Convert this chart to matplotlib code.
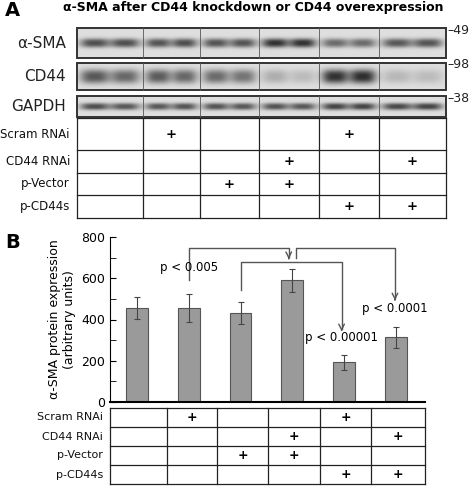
import numpy as np
import matplotlib
matplotlib.use("Agg")
import matplotlib.pyplot as plt

# ---- data ----
conditions = ["Scram RNAi", "CD44 RNAi", "p-Vector", "p-CD44s"]
marks = [  # per group: Scram, CD44 RNAi, p-Vector, p-CD44s
    [0, 1, 0, 0, 1, 0],
    [0, 0, 0, 1, 0, 1],
    [0, 0, 1, 1, 0, 0],
    [0, 0, 0, 0, 1, 1],
]
values = [455, 458, 432, 590, 193, 313]
errors = [53, 68, 52, 55, 37, 52]
yticks = [0, 200, 400, 600, 800]
blot_names = ["α-SMA", "CD44", "GAPDH"]
mw_labels = ["49", "98", "38"]
# band intensities per lane (12 lanes)
sma_int = [0.75, 0.75, 0.72, 0.75, 0.72, 0.72, 0.9, 0.9, 0.6, 0.6, 0.7, 0.72]
cd44_int = [0.7, 0.62, 0.68, 0.62, 0.6, 0.55, 0.25, 0.18, 0.9, 0.92, 0.2, 0.18]
gapdh_int = [0.75, 0.7, 0.7, 0.72, 0.72, 0.7, 0.72, 0.7, 0.8, 0.8, 0.78, 0.8]
p_labels = ["p < 0.005", "p < 0.00001", "p < 0.0001"]

W, H = 474, 487
fig = plt.figure(figsize=(W/100, H/100), dpi=100)
ov = fig.add_axes([0, 0, 1, 1])
ov.set_xlim(0, W); ov.set_ylim(H, 0); ov.axis("off")

ov.text(5, 10, "A", fontsize=14, fontweight="bold", va="center")
ov.text(5, 242, "B", fontsize=14, fontweight="bold", va="center")
ov.text(253, 8, "α-SMA after CD44 knockdown or CD44 overexpression",
        fontsize=9, fontweight="bold", ha="center", va="center")

# ---- blots ----
bx0, bx1 = 77, 446
dividers = [143, 200, 259, 319, 379]
edges = [bx0] + dividers + [bx1]
panels = [(28, 58, sma_int, 4.5), (63, 90, cd44_int, 7), (96, 117, gapdh_int, 3.5)]
for (y0, y1, ints, sig), name, mw in zip(panels, blot_names, mw_labels):
    w = bx1 - bx0; h = y1 - y0
    xs = np.arange(w)[None, :] + bx0 + 0.5
    ys = np.arange(h)[:, None] + y0 + 0.5
    img = np.full((h, w), 0.87)
    yc = (y0 + y1) / 2
    for g in range(6):
        a, b = edges[g], edges[g + 1]
        for k, cx in enumerate([a + (b - a) * 0.27, a + (b - a) * 0.73]):
            inten = ints[2 * g + k]
            hw = (b - a) * 0.22
            prof = np.exp(-np.abs((xs - cx) / hw) ** 3) * np.exp(-np.abs((ys - yc) / sig) ** 2.5)
            img -= inten * 0.75 * prof
    ov.imshow(np.clip(img, 0, 1), cmap="gray", vmin=0, vmax=1, extent=(bx0, bx1, y1, y0),
              aspect="auto", interpolation="bilinear", zorder=1)
    ov.add_patch(plt.Rectangle((bx0, y0), w, h, fill=False, lw=1.4, ec="#333", zorder=3))
    for d in dividers:
        ov.plot([d, d], [y0, y1], color="#555", lw=0.6, zorder=3)
    ov.text(66, (y0 + y1) / 2, name, ha="right", va="center", fontsize=11, color="#222")
    ov.text(447, y0 + 2, "–" + mw, ha="left", va="center", fontsize=9, color="#222")
ov.set_xlim(0, W); ov.set_ylim(H, 0)

def table(x_edges, y_edges, lab_x, fs):
    x0, x1 = x_edges[0], x_edges[-1]
    for yy in y_edges:
        ov.plot([x0, x1], [yy, yy], color="#222", lw=0.9)
    for xx in x_edges:
        ov.plot([xx, xx], [y_edges[0], y_edges[-1]], color="#222", lw=0.9)
    for r, cond in enumerate(conditions):
        yc = (y_edges[r] + y_edges[r + 1]) / 2
        ov.text(lab_x, yc, cond, ha="right", va="center", fontsize=fs, color="#111")
        for c in range(6):
            if marks[r][c]:
                ov.text((x_edges[c] + x_edges[c + 1]) / 2, yc, "+", ha="center", va="center",
                        fontsize=fs + 1, fontweight="bold")

table(edges, [118, 150, 173, 195, 218], 70, 8.5)
table([110, 167, 217, 268, 320, 371, 425], [408, 427, 446, 465, 484], 103, 8)

# ---- bar chart ----
ax = fig.add_axes([110/W, (H-402)/H, 315/W, 165/H])
x = np.arange(len(values))
ax.bar(x, values, width=0.42, color="#9a9a9a", edgecolor="#555", lw=0.8,
       yerr=errors, capsize=2, error_kw=dict(ecolor="#444", lw=0.8, capthick=0.8))
ax.set_xlim(-0.52, 5.56); ax.set_ylim(0, 800)
ax.set_yticks(yticks)
ax.set_yticks(np.arange(0, 801, 100), minor=True)
ax.tick_params(axis="y", labelsize=9, direction="in", length=4, which="both")
ax.tick_params(axis="x", bottom=False, labelbottom=False)
for s in ["top", "right"]:
    ax.spines[s].set_visible(False)
ax.spines["bottom"].set_linewidth(1.5)
ax.set_ylabel("α-SMA protein expression\n(arbitrary units)", fontsize=9, labelpad=4)

lc = "#555"
def bracket(xa, xb, ytop, ystart, yend):
    ax.plot([xa, xa, xb, xb], [ystart, ytop, ytop, yend], color=lc, lw=1, clip_on=False)
    ax.annotate("", xy=(xb, yend - 12), xytext=(xb, yend + 5),
                arrowprops=dict(arrowstyle="->", color=lc, lw=1), annotation_clip=False)
bracket(1, 2.93, 748, 590, 705)
bracket(3.07, 4.98, 748, 700, 505)
bracket(2, 3.95, 680, 545, 355)
ax.text(1, 652, p_labels[0], ha="center", va="center", fontsize=8.5)
ax.text(3.95, 312, p_labels[1], ha="center", va="center", fontsize=8.5)
ax.text(4.98, 455, p_labels[2], ha="center", va="center", fontsize=8.5)

fig.savefig("out.png", dpi=100)
